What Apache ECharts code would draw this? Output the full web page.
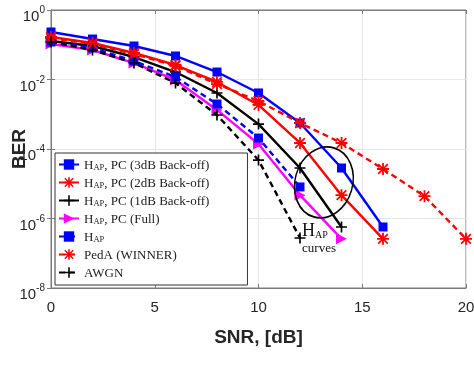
<!DOCTYPE html>
<html><head><meta charset="utf-8">
<script src="https://cdn.jsdelivr.net/npm/echarts@6/dist/echarts.min.js"></script>
<style>html,body{margin:0;padding:0;background:#fff}#c{width:474px;height:367px}</style>
</head><body><div id="c"></div>
<script>
const snr = [0,2,4,6,8,10,12,14,16,18,20];
const xTicks = [0,5,10,15,20];
const yTickExps = [0,-2,-4,-6,-8];
const names = ['H_AP, PC (3dB Back-off)','H_AP, PC (2dB Back-off)','H_AP, PC (1dB Back-off)','H_AP, PC (Full)','H_AP','PedA (WINNER)','AWGN'];
const berPC3 = [0.233,0.146,0.092,0.0475,0.0164,0.0041,5.6e-4,2.84e-5,5.7e-7];
const berPC2 = [0.167,0.112,0.058,0.0261,0.0085,1.85e-3,1.49e-4,4.7e-6,2.6e-7];
const berPC1 = [0.128,0.092,0.0444,0.0164,0.0041,5.2e-4,2.84e-5,5.7e-7];
const berFull = [0.105,0.0706,0.0298,0.0097,1.33e-3,1.39e-4,4.7e-6,2.6e-7];
const berHAP = [0.12,0.0806,0.034,0.0118,1.97e-3,2.07e-4,8.1e-6];
const berPedA = [0.156,0.105,0.054,0.0245,0.0074,2.4e-3,5.6e-4,1.49e-4,2.66e-5,4.4e-6,2.6e-7];
const berAWGN = [0.12,0.0706,0.0298,7.9e-3,9.5e-4,4.8e-5,2.75e-7];

const STAR = 'path://M8.5,0 L11.5,0 L11.5,20 L8.5,20 Z M0,8.5 L20,8.5 L20,11.5 L0,11.5 Z M3,1 L19,17 L17,19 L1,3 Z M17,1 L19,3 L3,19 L1,17 Z';
const PLUS = 'path://M8.5,0 L11.5,0 L11.5,20 L8.5,20 Z M0,8.5 L20,8.5 L20,11.5 L0,11.5 Z';

function pts(arr){ return arr.map((v,i)=>[snr[i], v]); }
function mk(name, arr, color, dashed, symbol, size, rot){
  return {name, type:'line', data:pts(arr), symbol, symbolSize:size, symbolRotate:rot||0,
    showSymbol:true, z: dashed?3:2,
    lineStyle:{color, width:2.4, type: dashed?[6,4]:'solid'},
    itemStyle:{color, borderWidth:0}, animation:false};
}
const series = [
  mk(names[0], berPC3, '#0000ff', false, 'rect', 9),
  mk(names[1], berPC2, '#ff0000', false, STAR, 12),
  mk(names[2], berPC1, '#000000', false, PLUS, 11),
  mk(names[3], berFull, '#ff00ff', false, 'triangle', 11, -90),
  mk(names[4], berHAP, '#0000ff', true, 'rect', 9),
  mk(names[5], berPedA, '#ff0000', true, STAR, 12),
  mk(names[6], berAWGN, '#000000', true, PLUS, 11)
];
const chart = echarts.init(document.getElementById('c'), null, {renderer:'canvas'});
const axisCol = '#262626';
const frame = '#7a7a7a';
chart.setOption({
  animation:false,
  backgroundColor:'#fff',
  grid:{left:51, right:8, top:10, bottom:79, containLabel:false, outerBoundsMode:'none',
    show:true, borderColor:frame, borderWidth:1},
  xAxis:[{type:'value', min:0, max:20, interval:5,
    axisLine:{show:true, lineStyle:{color:frame}}, axisTick:{inside:true, length:4, lineStyle:{color:frame}},
    axisLabel:{color:axisCol, fontSize:15, fontFamily:'Liberation Sans', margin:12,
      formatter:v=> xTicks.includes(v)? String(v):''},
    splitLine:{show:true, lineStyle:{color:'#e6e6e6'}},
    name:'SNR, [dB]', nameLocation:'middle', nameGap:40, nameMoveOverlap:false,
    nameTextStyle:{fontSize:19, fontWeight:'bold', fontFamily:'Liberation Sans', color:axisCol}},
   {type:'value', position:'top', min:0, max:20, interval:5,
    axisLine:{show:true, lineStyle:{color:frame}}, axisTick:{inside:true, length:4, lineStyle:{color:frame}},
    axisLabel:{show:false}, splitLine:{show:false}}],
  yAxis:[{type:'log', logBase:10, min:1e-8, max:1, interval:2,
    axisLine:{show:true, lineStyle:{color:frame}}, axisTick:{inside:true, length:4, lineStyle:{color:frame}},
    minorTick:{show:false},
    axisLabel:{color:axisCol, fontFamily:'Liberation Sans', margin:6, padding:[10,0,0,0],
      formatter:v=>{const e=Math.round(Math.log10(v)); return yTickExps.includes(e)? '{b|10}{s|'+e+'}':'';},
      rich:{b:{fontSize:15, color:axisCol, fontFamily:'Liberation Sans', verticalAlign:'bottom', lineHeight:19, padding:[4,0,0,0]},
            s:{fontSize:10, color:axisCol, fontFamily:'Liberation Sans', verticalAlign:'top', lineHeight:19}}},
    splitLine:{show:true, lineStyle:{color:'#e6e6e6'}},
    name:'BER', nameLocation:'middle', nameGap:22, nameRotate:90, nameMoveOverlap:false,
    nameTextStyle:{fontSize:19, fontWeight:'bold', fontFamily:'Liberation Sans', color:axisCol}},
   {type:'log', logBase:10, min:1e-8, max:1, interval:2, position:'right',
    axisLine:{show:true, lineStyle:{color:frame}}, axisTick:{inside:true, length:4, lineStyle:{color:frame}},
    axisLabel:{show:false}, splitLine:{show:false}}],
  legend:{orient:'vertical', left:55, top:153, itemWidth:20, itemHeight:13, itemGap:5,
    padding:[6,38,5,3], backgroundColor:'#fff', borderColor:'#333', borderWidth:1,
    data:names,
    formatter:n=> n.startsWith('H_AP') ? '{t|H}{sub|AP}{t|'+n.slice(4)+'}' : '{t|'+n+'}',
    textStyle:{color:'#222', fontFamily:'Liberation Serif', fontSize:13,
      rich:{t:{fontFamily:'Liberation Serif', fontSize:13, color:'#222', verticalAlign:'bottom', lineHeight:15},
            sub:{fontFamily:'Liberation Serif', fontSize:8.5, color:'#222', verticalAlign:'bottom', lineHeight:12}}}},
  series
});
const c = chart.convertToPixel({xAxisIndex:0,yAxisIndex:0},[13.15, Math.pow(10,-4.96)]);
const t = chart.convertToPixel({xAxisIndex:0,yAxisIndex:0},[12.1, Math.pow(10,-6.15)]);
chart.setOption({graphic:[
  {type:'circle', x:c[0], y:c[1], scaleX:0.8, scaleY:1, rotation:-0.28, shape:{cx:0, cy:0, r:36},
   style:{fill:'none', stroke:'#000', lineWidth:1.8}, z:10},
  {type:'text', x:t[0], y:t[1], style:{text:'{t|H}{sub|AP}\n{c|curves}', rich:{
     t:{fontFamily:'Liberation Serif', fontSize:18, fill:'#111', verticalAlign:'bottom', lineHeight:17},
     sub:{fontFamily:'Liberation Serif', fontSize:10, fill:'#111', verticalAlign:'bottom', lineHeight:12},
     c:{fontFamily:'Liberation Serif', fontSize:13, fill:'#111', lineHeight:16}}}, z:10}
]});
</script></body></html>
